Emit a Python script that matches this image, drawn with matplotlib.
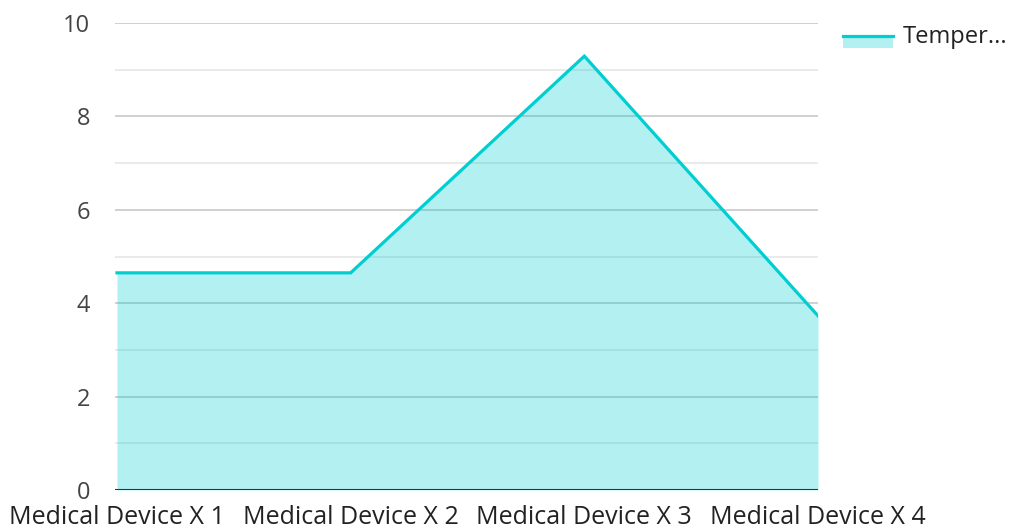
import matplotlib
matplotlib.use('Agg')
import matplotlib.pyplot as plt
from matplotlib.patches import Rectangle
from matplotlib.lines import Line2D

categories = ['Medical Device X 1', 'Medical Device X 2', 'Medical Device X 3', 'Medical Device X 4']
temperature = [4.65, 4.65, 9.29, 3.73]
series_name = 'Temper...'

line_color = '#00CED1'

plt.rcParams['font.family'] = ['Open Sans', 'DejaVu Sans']

fig = plt.figure(figsize=(10.1, 5.31), dpi=100)
ax = fig.add_axes([115 / 1010, 1 - 490 / 531, (818 - 115) / 1010, (490 - 23) / 531])

x = list(range(len(categories)))

# grid first so the translucent fill sits on top of it
for v in range(1, 11):
    ax.axhline(v, color='#c8c8c8' if v % 2 == 0 else '#e6e6e6', lw=1.2, zorder=0)

ax.fill_between(x, 0, temperature, color=line_color, alpha=0.3, lw=0, zorder=1)
ax.plot(x, temperature, color=line_color, lw=2.3, zorder=3, solid_joinstyle='miter')
ax.axhline(0, color='#333333', lw=1.5, zorder=4)

ax.set_xlim(-0.0085, 3)
ax.set_ylim(0, 10)
ax.set_yticks(range(0, 11, 2))
ax.set_xticks(x)
ax.set_xticklabels(categories, fontsize=18, color='#222222')
ax.tick_params(axis='y', length=0, pad=18, labelsize=17, labelcolor='#444444')
ax.tick_params(axis='x', length=0, pad=11)
for s in ax.spines.values():
    s.set_visible(False)

# legend drawn by hand: fill swatch with the line on its top edge
W, H = 1010, 531
fig.add_artist(Rectangle((843 / W, 1 - 48 / H), 50 / W, 13 / H, transform=fig.transFigure,
                         facecolor=line_color, alpha=0.3, lw=0))
fig.add_artist(Line2D([843 / W, 893 / W], [1 - 35.5 / H, 1 - 35.5 / H], transform=fig.transFigure,
                      color=line_color, lw=2.3))
fig.text(903 / W, 1 - 37 / H, series_name, fontsize=17, color='#222222', va='center', ha='left')

fig.savefig('out.png', dpi=100)
